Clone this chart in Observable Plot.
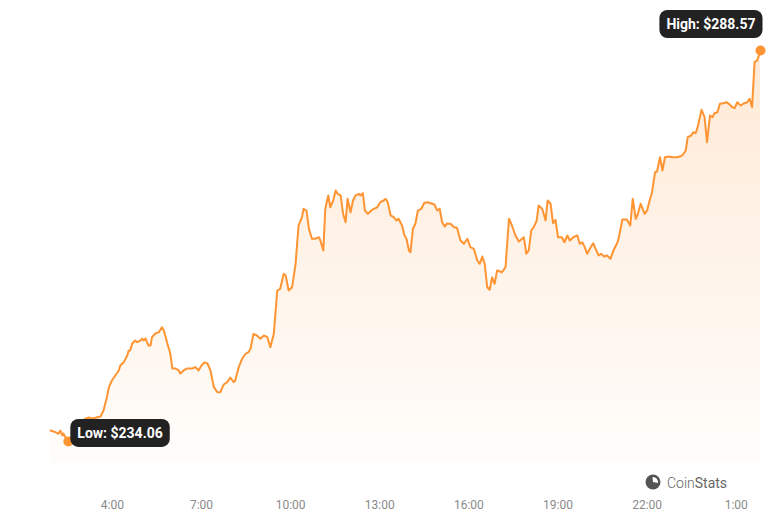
<!DOCTYPE html>
<html>
<head>
<meta charset="utf-8">
<script src="https://cdn.jsdelivr.net/npm/d3@7"></script>
<script src="https://cdn.jsdelivr.net/npm/@observablehq/plot@0.6"></script>
<style>
  html, body { margin: 0; padding: 0; background: #fff; }
  #chart { width: 768px; height: 524px; }
</style>
</head>
<body>
<div id="chart"></div>
<script>
// Minutes since 00:00 of the first day (values above 1440 fall on the next day)
const minutes = [115,125,131,135,139,141,145,151,159,167,175,183,192,200,208,216,222,229,233,239,246,253,256,263,270,273,276,280,286,290,297,300,303,307,310,313,317,320,327,334,340,344,351,357,361,367,374,377,384,391,401,408,414,420,426,432,438,445,452,458,465,472,478,485,488,495,502,509,515,519,525,532,539,546,553,559,566,573,579,586,590,596,603,610,616,623,626,632,637,643,650,657,660,666,670,676,680,686,691,695,701,706,711,715,721,726,731,738,741,746,750,756,763,768,775,781,788,792,796,802,808,814,818,825,830,834,839,842,847,852,857,864,870,877,886,891,896,901,906,911,916,923,930,936,943,950,957,963,970,977,982,987,992,997,1002,1007,1012,1017,1027,1034,1041,1047,1054,1061,1071,1076,1081,1086,1091,1097,1101,1108,1115,1119,1125,1130,1135,1140,1148,1153,1159,1164,1171,1179,1184,1189,1194,1199,1206,1211,1216,1222,1227,1233,1239,1246,1253,1260,1263,1270,1279,1286,1291,1297,1301,1307,1315,1320,1325,1330,1336,1340,1346,1351,1356,1364,1371,1381,1391,1398,1402,1409,1413,1418,1422,1430,1436,1441,1447,1452,1456,1462,1467,1474,1480,1485,1492,1497,1502,1509,1514,1522,1527,1532,1537,1542,1549];
const prices = [235.59,235.36,235.13,235.59,234.90,235.18,234.66,234.06,234.76,235.59,236.29,237.13,237.41,237.27,237.41,237.55,238.38,240.24,241.63,242.56,243.26,243.96,244.66,245.12,246.05,246.75,246.75,247.72,248.14,247.90,248.14,248.42,248.14,248.42,247.90,247.44,247.44,248.60,249.12,249.30,249.99,249.53,247.72,246.33,244.24,244.24,243.96,243.54,243.96,244.24,244.24,244.42,243.96,244.66,245.07,244.93,243.96,241.63,240.93,240.93,242.01,242.33,242.98,242.33,242.56,244.38,245.59,246.29,246.51,246.98,249.07,248.84,248.38,248.84,248.60,247.21,249.07,255.11,255.35,257.44,257.20,255.11,255.57,258.83,264.17,265.33,266.50,266.26,263.71,262.32,262.32,262.54,262.08,260.69,266.50,268.36,266.72,267.66,269.05,268.59,268.36,265.80,264.63,267.89,266.03,267.66,268.36,268.59,268.36,268.68,266.26,265.80,266.26,266.50,266.72,267.42,267.66,267.89,267.42,265.57,265.33,264.87,265.11,264.17,262.78,262.32,260.69,260.45,263.71,264.41,266.26,266.50,267.34,267.42,267.20,267.06,266.26,266.50,264.63,264.03,264.45,264.41,263.94,263.85,262.08,261.62,262.32,261.15,260.92,259.29,258.83,259.85,258.83,255.57,255.21,256.96,256.04,257.90,257.66,258.36,265.11,264.17,262.78,261.94,262.54,260.23,260.69,263.48,263.94,264.87,266.96,266.50,264.87,267.66,267.20,264.49,264.97,262.54,262.54,261.84,262.78,262.08,262.54,262.78,261.62,261.84,261.15,260.23,261.15,261.70,260.92,259.99,260.23,259.85,259.99,259.53,260.83,261.80,262.54,265.01,265.01,264.17,267.89,265.11,265.71,267.20,265.80,266.26,267.66,268.82,271.60,271.70,273.69,271.84,273.69,273.79,273.69,273.69,273.93,274.63,276.48,276.72,277.18,277.04,277.88,280.30,279.27,275.79,279.51,279.27,279.83,279.97,281.14,281.22,281.36,281.14,280.66,280.53,281.36,280.90,281.14,281.36,281.84,280.66,286.94,287.18,288.57];
const tickHours = [4, 7, 10, 13, 16, 19, 22, 25];
const lowLabel = "Low: $234.06";
const highLabel = "High: $288.57";
const brand = ["Coin", "Stats"];

const base = Date.UTC(2024, 0, 1);
const data = minutes.map((m, i) => ({ time: new Date(base + m * 60000), price: prices[i] }));
const ticks = tickHours.map(h => new Date(base + h * 3600000));
const low = data.reduce((a, b) => (b.price < a.price ? b : a));
const high = data.reduce((a, b) => (b.price > a.price ? b : a));

const orange = "#ff9433";
const W = 768, H = 524;
const yMin = 231.13;
const NS = "http://www.w3.org/2000/svg";

const gradient = () => {
  const defs = document.createElementNS(NS, "defs");
  const lg = document.createElementNS(NS, "linearGradient");
  lg.setAttribute("id", "areaGrad");
  lg.setAttribute("x1", "0"); lg.setAttribute("y1", "0");
  lg.setAttribute("x2", "0"); lg.setAttribute("y2", "1");
  [["0%", 0.2], ["100%", 0.02]].forEach(([o, a]) => {
    const s = document.createElementNS(NS, "stop");
    s.setAttribute("offset", o);
    s.setAttribute("stop-color", orange);
    s.setAttribute("stop-opacity", a);
    lg.appendChild(s);
  });
  defs.appendChild(lg);
  return defs;
};

const chart = Plot.plot({
  width: W,
  height: H,
  marginLeft: 50,
  marginRight: 8,
  marginTop: 50,
  marginBottom: 62,
  style: { fontFamily: "Roboto, sans-serif", color: "#8a8a8a", background: "#fff" },
  x: { type: "utc" },
  y: { domain: [yMin, high.price], axis: null },
  marks: [
    gradient,
    Plot.areaY(data, { x: "time", y1: yMin, y2: "price", fill: "url(#areaGrad)" }),
    Plot.lineY(data, { x: "time", y: "price", stroke: orange, strokeWidth: 2, strokeLinejoin: "round" }),
    Plot.dot([low, high], { x: "time", y: "price", r: 5, fill: orange }),
    Plot.axisX({ ticks, tickFormat: d3.utcFormat("%-H:%M"), tickSize: 0, tickPadding: 38, fontSize: 12, fill: "#8a8a8a" }),
    Plot.text([low], { x: "time", y: "price", text: () => lowLabel, textAnchor: "start", dx: 9, dy: -8, fill: "#fff", fontSize: 14, fontWeight: "bold" }),
    Plot.text([high], { x: "time", y: "price", text: () => highLabel, textAnchor: "end", dx: -5, dy: -26, fill: "#fff", fontSize: 14, fontWeight: "bold" })
  ]
});

document.getElementById("chart").appendChild(chart);

// dark rounded backgrounds behind the label texts
const svg = d3.select(chart);
svg.selectAll("text").each(function () {
  const t = this.textContent;
  if (t === lowLabel || t === highLabel) {
    const bb = this.getBBox();
    const rect = document.createElementNS(NS, "rect");
    const tr = this.getAttribute("transform");
    if (tr) rect.setAttribute("transform", tr);
    rect.setAttribute("x", bb.x - 7);
    rect.setAttribute("y", bb.y + bb.height / 2 - 14);
    rect.setAttribute("width", bb.width + 14);
    rect.setAttribute("height", 28);
    rect.setAttribute("rx", 8);
    rect.setAttribute("fill", "#222");
    rect.setAttribute("stroke", "none");
    this.parentNode.insertBefore(rect, this);
  }
});

// brand mark bottom right
const logo = svg.append("g").attr("transform", `translate(${W - 115},${H - 42})`);
logo.append("circle").attr("r", 7.5).attr("fill", "#555");
logo.append("path").attr("d", d3.arc()({ innerRadius: 0, outerRadius: 5, startAngle: -0.1, endAngle: Math.PI / 2 + 0.2 })).attr("fill", "#fff");
const lt = logo.append("text").attr("x", 14).attr("y", 5.5).attr("font-size", 14).attr("fill", "#666")
  .attr("text-anchor", "start").attr("font-family", "Roboto, sans-serif");
lt.append("tspan").attr("font-weight", 300).text(brand[0]);
lt.append("tspan").attr("font-weight", 400).text(brand[1]);
</script>
</body>
</html>
